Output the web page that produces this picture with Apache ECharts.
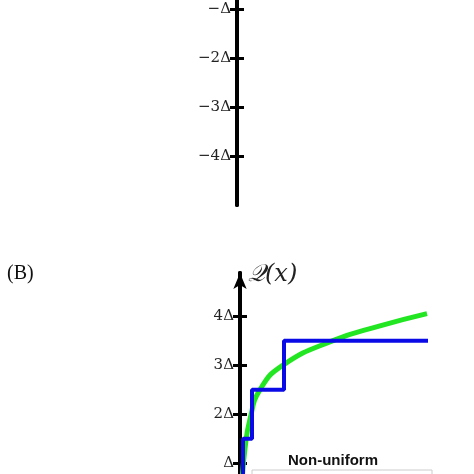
<!DOCTYPE html>
<html>
<head>
<meta charset="utf-8">
<script src="https://cdn.jsdelivr.net/npm/echarts@6/dist/echarts.min.js"></script>
<style>html,body{margin:0;padding:0;background:#fff}#chart{width:474px;height:474px}</style>
</head>
<body>
<div id="chart"></div>
<script>
// panel A: uniform quantizer (negative half visible)
const stepsA = [[-4, -3.5], [-3, -3.5], [-3, -2.5], [-2, -2.5], [-2, -1.5], [-1, -1.5], [-1, -0.82]];
const ticksA = [-4, -3, -2, -1];
const labelsA = {'-4': '−4Δ', '-3': '−3Δ', '-2': '−2Δ', '-1': '−Δ'};

// panel B: non-uniform quantizer vs. companding curve
const stepsB = [[0.3, 0.78], [0.3, 1.5], [1.2, 1.5], [1.2, 2.5], [4.4, 2.5], [4.4, 3.5], [18.8, 3.5]];
const curveB = [[0.2, 0.6], [0.5, 1.3], [1, 1.9], [2, 2.5], [4.3, 3], [9.3, 3.5], [14, 3.8], [18.7, 4.05]];
const ticksB = [1, 2, 3, 4];
const labelsB = {'1': 'Δ', '2': '2Δ', '3': '3Δ', '4': '4Δ'};

const serif = '"DejaVu Serif", "Liberation Serif", serif';
const blue = '#0a0ae6', green = '#22e622';

function yAx(gi, ticks, labels, min, max, inside, arrow) {
  return {
    type: 'value', gridIndex: gi, min: min, max: max, position: 'left',
    axisLine: {show: true, onZero: false, lineStyle: {color: '#000', width: 4},
      symbol: arrow ? ['none', 'arrow'] : ['none', 'none'], symbolSize: [10, 16]},
    axisTick: {show: true, inside: inside, length: 7, lineStyle: {color: '#000', width: 3}, customValues: ticks},
    axisLabel: {show: !inside, customValues: ticks, formatter: v => labels[String(v)] || '',
      fontFamily: serif, fontSize: 15, color: '#222', margin: 6},
    splitLine: {show: false}
  };
}
function xAx(gi, min, max) {
  return {type: 'value', gridIndex: gi, min: min, max: max,
    axisLine: {show: false}, axisTick: {show: false}, axisLabel: {show: false}, splitLine: {show: false}};
}

const chart = echarts.init(document.getElementById('chart'));
const yB = yAx(1, ticksB, labelsB, 0.78, 4.88, false, true);
yB.name = '𝒬(x)';
yB.nameLocation = 'end';
yB.nameGap = -14;
yB.nameTextStyle = {fontFamily: serif, fontSize: 24, fontStyle: 'italic', color: '#222', align: 'left', padding: [0, 0, 0, 8]};

chart.setOption({
  animation: false,
  grid: [
    {left: 237, top: 0, width: 237, height: 205},
    {left: 240, top: 273, width: 234, height: 201}
  ],
  xAxis: [xAx(0, 0, 237 / 47), xAx(1, 0, 23.4)],
  yAxis: [
    yAx(0, ticksA, labelsA, -5, -0.816, false, false),
    yAx(0, ticksA, labelsA, -5, -0.816, true, false),
    yB,
    yAx(1, ticksB, labelsB, 0.78, 4.88, true, false)
  ],
  series: [
    {type: 'line', xAxisIndex: 0, yAxisIndex: 0, data: stepsA, clip: false, symbol: 'none', lineStyle: {color: blue, width: 4}},
    {type: 'line', xAxisIndex: 1, yAxisIndex: 2, data: curveB, smooth: true, symbol: 'none', lineStyle: {color: green, width: 5}, z: 2},
    {type: 'line', xAxisIndex: 1, yAxisIndex: 2, data: stepsB, symbol: 'none', lineStyle: {color: blue, width: 4}, z: 3}
  ],
  graphic: [
    {type: 'text', left: 7, top: 264, style: {text: '(B)', font: '20px "Liberation Serif", serif', fill: '#111'}},
    {type: 'rect', shape: {x: 252, y: 470, width: 180, height: 20}, style: {fill: '#fff', stroke: '#ccc', lineWidth: 1}, z: 10},
    {type: 'text', left: 288, top: 453, z: 11, style: {text: 'Non-uniform', font: 'bold 15px "Liberation Sans", Arial, sans-serif', fill: '#111'}}
  ]
});
</script>
</body>
</html>
